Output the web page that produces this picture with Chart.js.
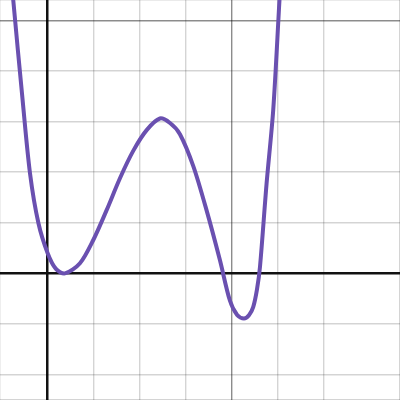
<!DOCTYPE html>
<html>
<head>
<script src="https://cdn.jsdelivr.net/npm/chart.js@4"></script>
<style>
html, body { margin: 0; padding: 0; background: white; }
#box { width: 400px; height: 400px; }
</style>
</head>
<body>
<div id="box"><canvas id="c"></canvas></div>
<script>
// points
const xs = [-0.40, -0.374, -0.272, -0.192, -0.10, 0.00, 0.09, 0.188, 0.351, 0.496, 0.641, 0.786, 0.93, 1.076, 1.22, 1.33, 1.438, 1.583, 1.727, 1.873, 1.98, 2.06, 2.134, 2.19, 2.235, 2.275, 2.308, 2.38, 2.452, 2.52, 2.55];
const ys = [6.0, 5.4, 3.42, 1.98, 0.99, 0.40, 0.09, 0.0, 0.20, 0.66, 1.25, 1.88, 2.42, 2.83, 3.06, 2.97, 2.75, 2.12, 1.25, 0.26, -0.53, -0.82, -0.89, -0.82, -0.66, -0.32, 0.13, 1.78, 3.23, 5.4, 6.3];

const xMin = -0.518, xMax = 3.83;
const yMin = -2.5, yMax = 5.4;

const pts = xs.map(function (x, i) { return { x: x, y: ys[i] }; });

function gridColor(ctx, major) {
    const v = ctx.tick.value;
    if (Math.abs(v) < 1e-9) return "#111";
    if (Math.abs(v % major) < 1e-9) return "rgba(0,0,0,0.45)";
    return "rgba(0,0,0,0.17)";
}
function gridWidth(ctx) {
    return Math.abs(ctx.tick.value) < 1e-9 ? 2.5 : 1.4;
}

new Chart(document.getElementById("c"), {
    type: "scatter",
    data: {
        datasets: [{
            data: pts,
            showLine: true,
            borderColor: "#6a50b0",
            borderWidth: 4,
            pointRadius: 0,
            tension: 0.3,
            fill: false
        }]
    },
    options: {
        responsive: true,
        maintainAspectRatio: false,
        animation: false,
        layout: { padding: 0 },
        plugins: { legend: { display: false }, tooltip: { enabled: false } },
        scales: {
            x: {
                type: "linear", min: xMin, max: xMax,
                border: { display: false },
                ticks: { display: false, stepSize: 0.5 },
                grid: { drawTicks: false, tickLength: 0, color: function (c) { return gridColor(c, 2); }, lineWidth: gridWidth }
            },
            y: {
                type: "linear", min: yMin, max: yMax,
                border: { display: false },
                ticks: { display: false, stepSize: 1 },
                grid: { drawTicks: false, tickLength: 0, color: function (c) { return gridColor(c, 5); }, lineWidth: gridWidth }
            }
        }
    }
});
</script>
</body>
</html>
